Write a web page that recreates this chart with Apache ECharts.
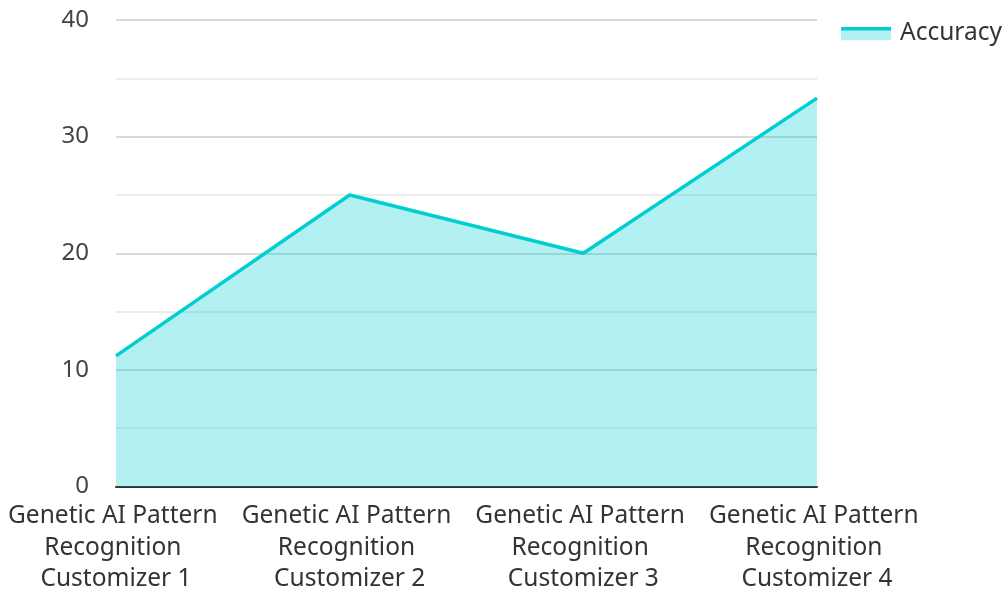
<!DOCTYPE html>
<html><head><meta charset="utf-8">
<script src="https://cdn.jsdelivr.net/npm/echarts@6/dist/echarts.min.js"></script>
<style>html,body{margin:0;padding:0;background:#fff}#c{width:1007px;height:591px}</style>
</head><body><div id="c"></div>
<script>
const categories = ["Genetic AI Pattern Recognition Customizer 1","Genetic AI Pattern Recognition Customizer 2","Genetic AI Pattern Recognition Customizer 3","Genetic AI Pattern Recognition Customizer 4"];
const accuracy = [11.2, 25, 20, 33.3];
const seriesName = "Accuracy";
const yTicks = {min: 0, max: 40, interval: 10};

const iconSvg = '<svg xmlns="http://www.w3.org/2000/svg" width="50" height="14"><rect x="0" y="3.5" width="50" height="10.5" fill="#b3f0f1"/><rect x="0" y="0" width="50" height="4" fill="#00CED1"/></svg>';
const icon = 'image://data:image/svg+xml;charset=utf-8,' + encodeURIComponent(iconSvg);

const chart = echarts.init(document.getElementById('c'), null, {renderer: 'canvas'});
chart.setOption({
  animation: false,
  textStyle: {fontFamily: 'Noto Sans'},
  legend: {
    data: [{name: seriesName, icon: icon}],
    right: 0, top: 16,
    itemWidth: 50, itemHeight: 14, itemGap: 10,
    textStyle: {fontSize: 24.5, color: '#333', fontFamily: 'Noto Sans', padding: [0, 0, 0, 4]}
  },
  grid: {left: 116, right: 190, top: 20, bottom: 104.5, containLabel: false, outerBoundsMode: 'none'},
  xAxis: {
    type: 'category', data: categories, boundaryGap: false,
    axisLine: {lineStyle: {color: '#333', width: 2}},
    axisTick: {show: false},
    axisLabel: {fontSize: 24.5, color: '#333', width: 228, overflow: 'break', lineHeight: 31.5, margin: 14, interval: 0, fontFamily: 'Noto Sans'},
    splitLine: {show: false}
  },
  yAxis: {
    type: 'value', min: yTicks.min, max: yTicks.max, interval: yTicks.interval,
    axisLine: {show: false}, axisTick: {show: false},
    axisLabel: {fontSize: 24, color: '#444', margin: 27, fontFamily: 'Noto Sans'},
    splitLine: {lineStyle: {color: '#cccccc', width: 1.5}},
    minorTick: {show: false, splitNumber: 2},
    minorSplitLine: {show: true, lineStyle: {color: '#e6e6e6', width: 1.5}}
  },
  series: [{
    name: seriesName, type: 'line', data: accuracy,
    symbol: 'none',
    lineStyle: {color: '#00CED1', width: 3.5},
    itemStyle: {color: '#00CED1'},
    areaStyle: {color: '#00CED1', opacity: 0.3}
  }]
});
</script></body></html>
